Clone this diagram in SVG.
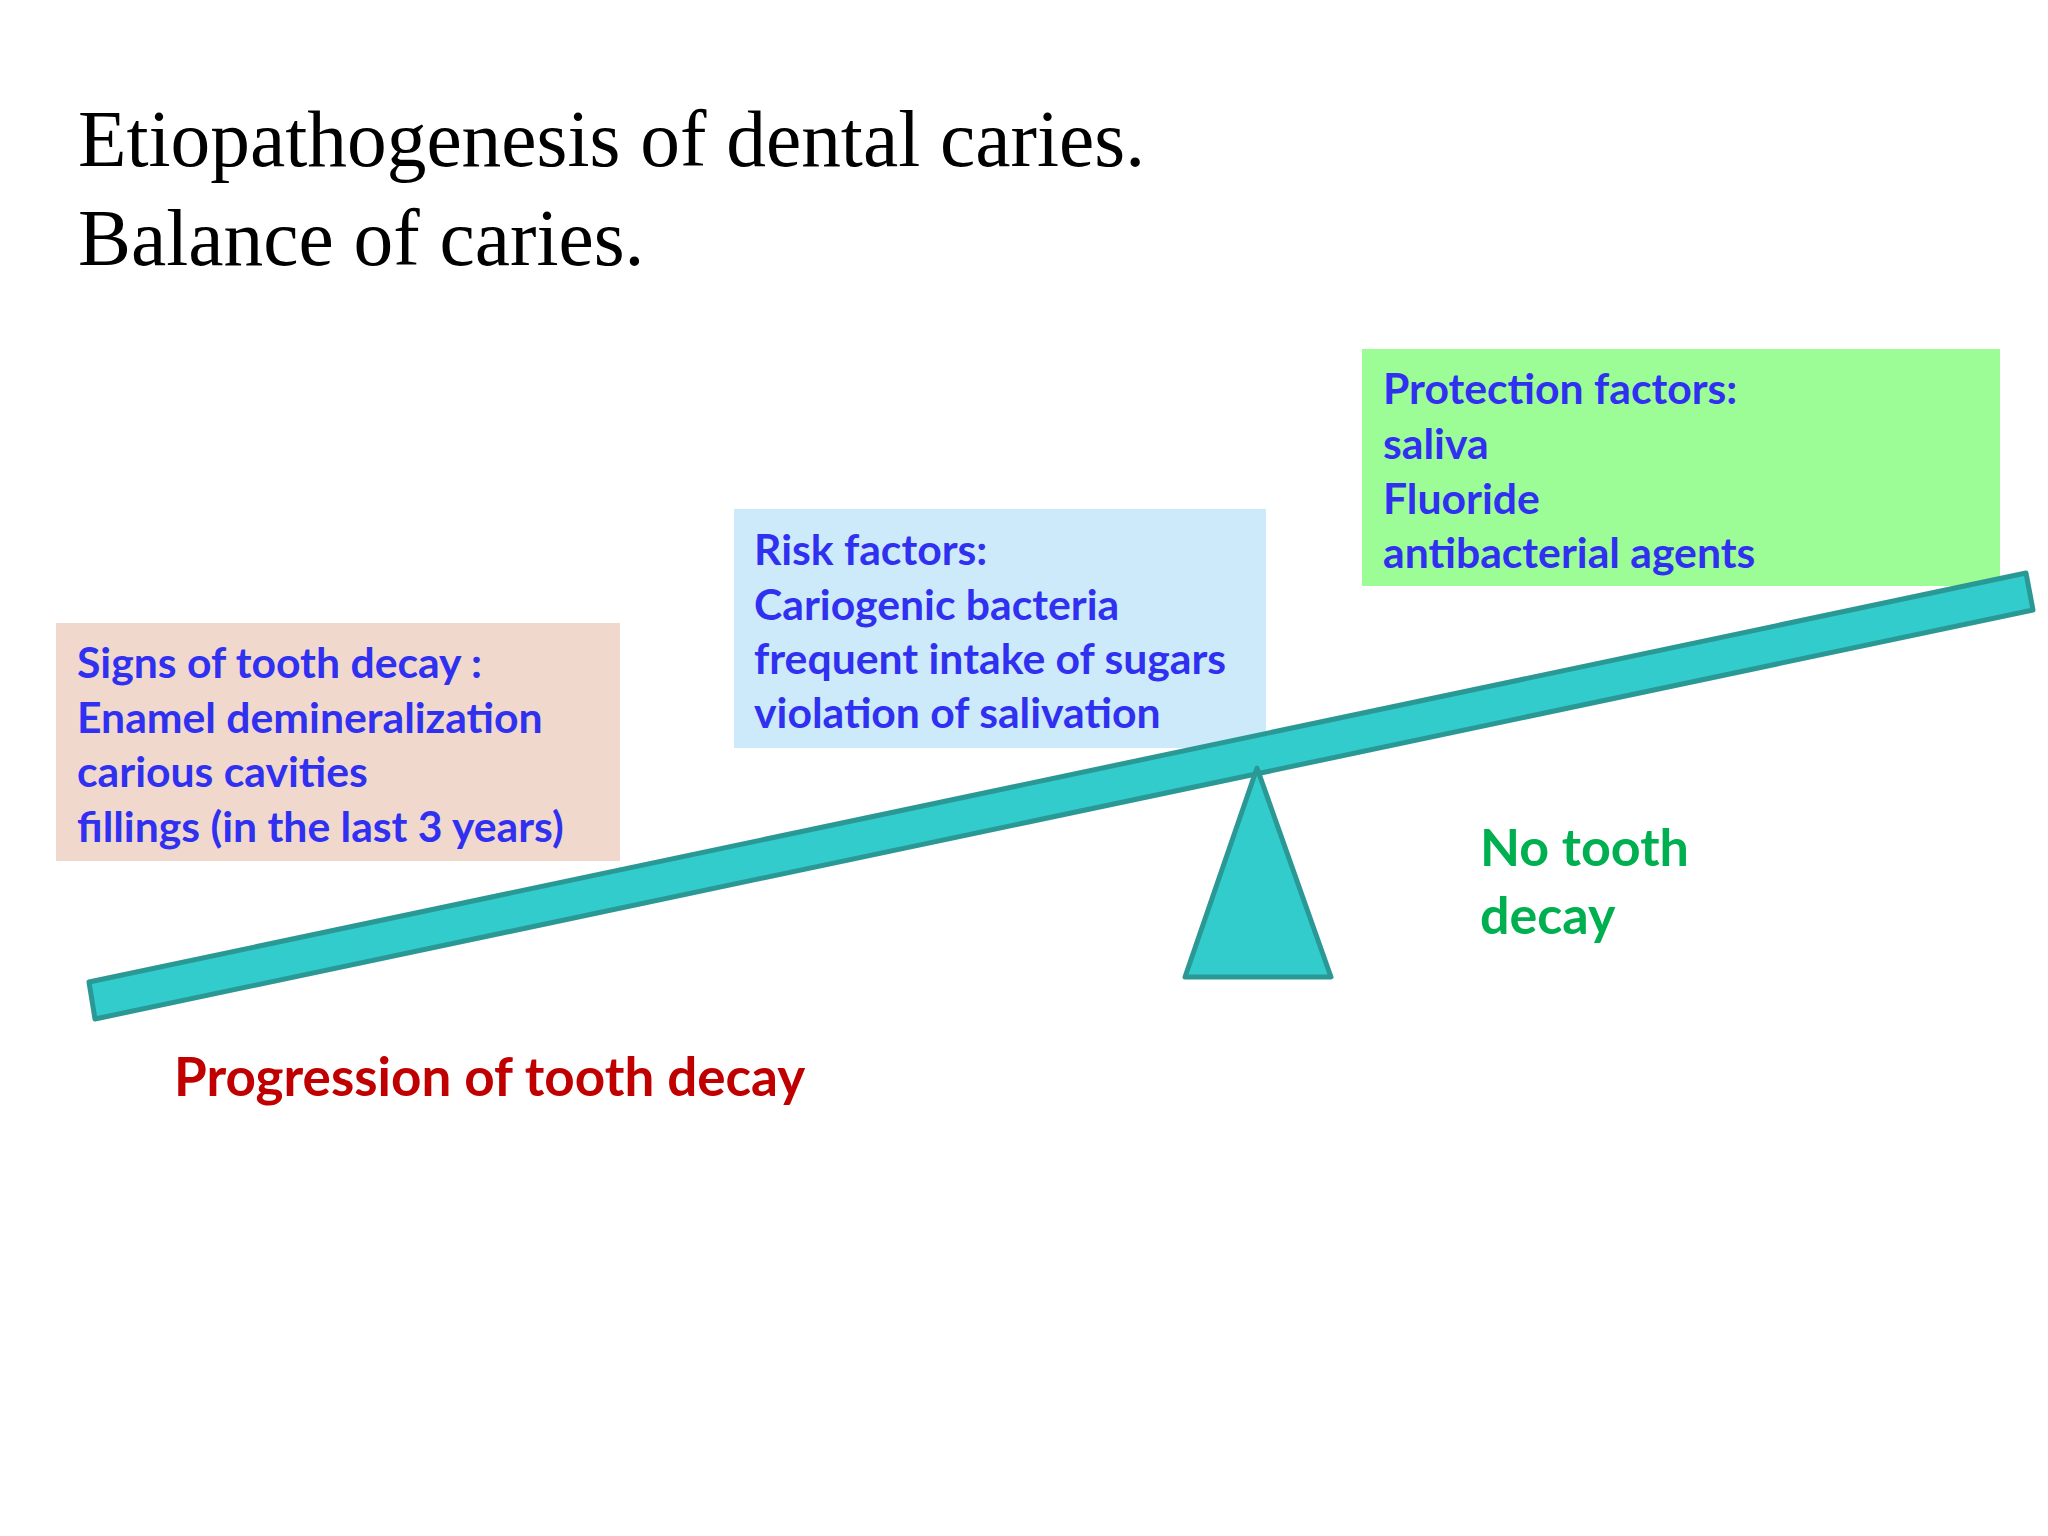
<svg xmlns="http://www.w3.org/2000/svg" width="2048" height="1536" viewBox="0 0 2048 1536">
<style>
.title{font-family:"Liberation Serif","Times New Roman",serif;font-size:79.4px;fill:#000}
.box-text{font-family:Lato,"Noto Sans",sans-serif;font-weight:bold;font-size:42.7px;fill:#3030F0}
.big{font-family:Lato,"Noto Sans",sans-serif;font-weight:bold;font-size:52px}
.teal{fill:#33CCCC;stroke:#2A9996;stroke-width:5;stroke-linejoin:round}
</style>
<rect width="2048" height="1536" fill="#fff"/>
<g id="title">
<text class="title" x="78" y="166">Etiopathogenesis of dental caries.</text>
<text class="title" x="78" y="265">Balance of caries.</text>
</g>
<g id="signs">
<rect x="56" y="623" width="564" height="238" fill="#F1D8CD"/>
<text class="box-text" x="77" y="678">Signs of tooth decay :</text>
<text class="box-text" x="77" y="733">Enamel demineralization</text>
<text class="box-text" x="77" y="787">carious cavities</text>
<text class="box-text" x="77" y="842">fillings (in the last 3 years)</text>
</g>
<g id="risk">
<rect x="734" y="509" width="532" height="239" fill="#CDEAFB"/>
<text class="box-text" x="754" y="565">Risk factors:</text>
<text class="box-text" x="754" y="620">Cariogenic bacteria</text>
<text class="box-text" x="754" y="674">frequent intake of sugars</text>
<text class="box-text" x="754" y="728">violation of salivation</text>
</g>
<g id="protection">
<rect x="1362" y="349" width="638" height="237" fill="#9CFD97"/>
<text class="box-text" x="1383" y="404">Protection factors:</text>
<text class="box-text" x="1383" y="459">saliva</text>
<text class="box-text" x="1383" y="514">Fluoride</text>
<text class="box-text" x="1383" y="568">antibacterial agents</text>
</g>
<g id="balance">
<polygon class="teal" points="89,982 2026,573 2033,610 95,1019"/>
<polygon class="teal" points="1257,768 1331,977 1185,977"/>
</g>
<g id="no-decay">
<text class="big" x="1480" y="866" fill="#00B050">No tooth</text>
<text class="big" x="1480" y="934" fill="#00B050">decay</text>
</g>
<g id="progression">
<text class="big" x="174" y="1096" fill="#C00000" style="font-size:53px">Progression of tooth decay</text>
</g>
<g id="connectors"></g>
</svg>
